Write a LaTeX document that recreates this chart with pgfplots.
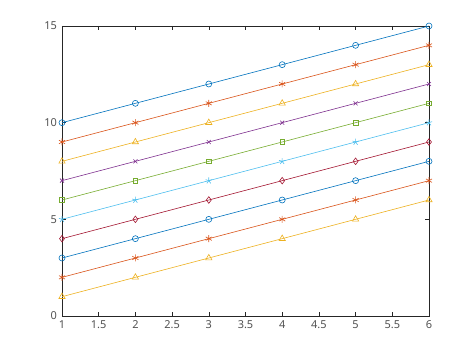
\documentclass[border=0pt]{standalone}
\usepackage{pgfplots}
\pgfplotsset{compat=1.18}
\usetikzlibrary{plotmarks}
\usepackage{fontspec}
\setmainfont{Noto Sans}
\definecolor{mb}{rgb}{0,0.447,0.741}
\definecolor{mo}{rgb}{0.85,0.325,0.098}
\definecolor{my}{rgb}{0.929,0.694,0.125}
\definecolor{mp}{rgb}{0.494,0.184,0.556}
\definecolor{mg}{rgb}{0.466,0.674,0.188}
\definecolor{ml}{rgb}{0.301,0.745,0.933}
\definecolor{mr}{rgb}{0.635,0.078,0.184}
\definecolor{axc}{rgb}{0.15,0.15,0.15}
\begin{document}
\begin{tikzpicture}
\useasboundingbox (-62bp,-39bp) rectangle (412bp,316bp);
\begin{axis}[
  at={(0,0)}, anchor=south west,
  scale only axis, width=367bp, height=290bp,
  xmin=1, xmax=6, ymin=0, ymax=15,
  xtick={1,1.5,...,6}, ytick={0,5,10,15},
  xticklabels={1,1.5,2,2.5,3,3.5,4,4.5,5,5.5,6},
  tick align=inside, tick pos=both,
  major tick length=4bp,
  axis line style={axc, line width=0.5pt},
  tick style={axc, line width=0.5pt},
  ticklabel style={font=\fontsize{11}{13}\selectfont, text=axc!80},
  xticklabel style={yshift=-1.5bp},
  yticklabel style={xshift=-1.5bp},
  /pgf/number format/assume math mode=true,
  every axis plot/.append style={line width=0.6pt, mark options={solid, line width=0.6pt, fill=none}},
  clip=false,
]
\addplot[mb, mark=o, mark size=3bp] coordinates {(1,10)(2,11)(3,12)(4,13)(5,14)(6,15)};
\addplot[mo, mark=asterisk, mark size=3.5bp] coordinates {(1,9)(2,10)(3,11)(4,12)(5,13)(6,14)};
\addplot[my, mark=triangle, mark size=3.6bp] coordinates {(1,8)(2,9)(3,10)(4,11)(5,12)(6,13)};
\addplot[mp, mark=x, mark size=2.8bp] coordinates {(1,7)(2,8)(3,9)(4,10)(5,11)(6,12)};
\addplot[mg, mark=square, mark size=2.3bp] coordinates {(1,6)(2,7)(3,8)(4,9)(5,10)(6,11)};
\addplot[ml, mark=star, mark size=3.3bp] coordinates {(1,5)(2,6)(3,7)(4,8)(5,9)(6,10)};
\addplot[mr, mark=diamond, mark size=3.3bp] coordinates {(1,4)(2,5)(3,6)(4,7)(5,8)(6,9)};
\addplot[mb, mark=o, mark size=3bp] coordinates {(1,3)(2,4)(3,5)(4,6)(5,7)(6,8)};
\addplot[mo, mark=asterisk, mark size=3.5bp] coordinates {(1,2)(2,3)(3,4)(4,5)(5,6)(6,7)};
\addplot[my, mark=triangle, mark size=3.6bp] coordinates {(1,1)(2,2)(3,3)(4,4)(5,5)(6,6)};
\end{axis}
\end{tikzpicture}
\end{document}
